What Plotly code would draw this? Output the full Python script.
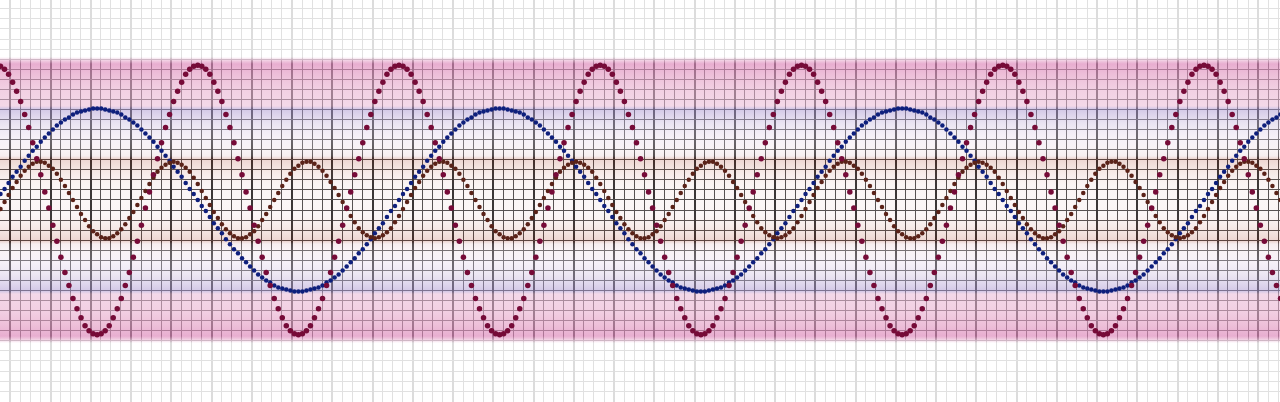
import plotly.graph_objects as go

# samples are evenly spaced along x (library builds them from x0/dx)
x_first = 0.0
x_step = 0.1

# large slow wave (dark blue dots)
blue_wave = [
    0.0, 0.6, 1.1, 1.7, 2.3, 2.8, 3.3, 3.9, 4.4, 4.9, 5.3, 5.8, 6.2, 6.6, 7.0, 7.4, 7.7, 8.0, 8.2, 8.5, 8.7, 8.8, 8.9, 9.0, 9.1,
    9.1, 9.1, 9.0, 8.9, 8.8, 8.7, 8.5, 8.2, 8.0, 7.7, 7.4, 7.0, 6.6, 6.2, 5.8, 5.3, 4.9, 4.4, 3.9, 3.3, 2.8, 2.3, 1.7, 1.1, 0.6,
    0.0, -0.6, -1.1, -1.7, -2.3, -2.8, -3.3, -3.9, -4.4, -4.9, -5.3, -5.8, -6.2, -6.6, -7.0, -7.4, -7.7, -8.0, -8.2, -8.5, -8.7, -8.8, -8.9, -9.0, -9.1,
    -9.1, -9.1, -9.0, -8.9, -8.8, -8.7, -8.5, -8.2, -8.0, -7.7, -7.4, -7.0, -6.6, -6.2, -5.8, -5.3, -4.9, -4.4, -3.9, -3.3, -2.8, -2.3, -1.7, -1.1, -0.6,
    0.0, 0.6, 1.1, 1.7, 2.3, 2.8, 3.3, 3.9, 4.4, 4.9, 5.3, 5.8, 6.2, 6.6, 7.0, 7.4, 7.7, 8.0, 8.2, 8.5, 8.7, 8.8, 8.9, 9.0, 9.1,
    9.1, 9.1, 9.0, 8.9, 8.8, 8.7, 8.5, 8.2, 8.0, 7.7, 7.4, 7.0, 6.6, 6.2, 5.8, 5.3, 4.9, 4.4, 3.9, 3.3, 2.8, 2.3, 1.7, 1.1, 0.6,
    0.0, -0.6, -1.1, -1.7, -2.3, -2.8, -3.3, -3.9, -4.4, -4.9, -5.3, -5.8, -6.2, -6.6, -7.0, -7.4, -7.7, -8.0, -8.2, -8.5, -8.7, -8.8, -8.9, -9.0, -9.1,
    -9.1, -9.1, -9.0, -8.9, -8.8, -8.7, -8.5, -8.2, -8.0, -7.7, -7.4, -7.0, -6.6, -6.2, -5.8, -5.3, -4.9, -4.4, -3.9, -3.3, -2.8, -2.3, -1.7, -1.1, -0.6,
    0.0, 0.6, 1.1, 1.7, 2.3, 2.8, 3.3, 3.9, 4.4, 4.9, 5.3, 5.8, 6.2, 6.6, 7.0, 7.4, 7.7, 8.0, 8.2, 8.5, 8.7, 8.8, 8.9, 9.0, 9.1,
    9.1, 9.1, 9.0, 8.9, 8.8, 8.7, 8.5, 8.2, 8.0, 7.7, 7.4, 7.0, 6.6, 6.2, 5.8, 5.3, 4.9, 4.4, 3.9, 3.3, 2.8, 2.3, 1.7, 1.1, 0.6,
    0.0, -0.6, -1.1, -1.7, -2.3, -2.8, -3.3, -3.9, -4.4, -4.9, -5.3, -5.8, -6.2, -6.6, -7.0, -7.4, -7.7, -8.0, -8.2, -8.5, -8.7, -8.8, -8.9, -9.0, -9.1,
    -9.1, -9.1, -9.0, -8.9, -8.8, -8.7, -8.5, -8.2, -8.0, -7.7, -7.4, -7.0, -6.6, -6.2, -5.8, -5.3, -4.9, -4.4, -3.9, -3.3, -2.8, -2.3, -1.7, -1.1, -0.6,
    0.0, 0.6, 1.1, 1.7, 2.3, 2.8, 3.3, 3.9, 4.4, 4.9, 5.3, 5.8, 6.2, 6.6, 7.0, 7.4, 7.7, 8.0, 8.2, 8.5,
]

# tall wave, twice as fast (maroon dots)
red_wave = [
    13.4, 13.3, 13.0, 12.5, 11.7, 10.8, 9.8, 8.5, 7.2, 5.7, 4.1, 2.5, 0.8, -0.8, -2.5, -4.1, -5.7, -7.2, -8.5, -9.8, -10.8, -11.7, -12.5, -13.0, -13.3,
    -13.4, -13.3, -13.0, -12.5, -11.7, -10.8, -9.8, -8.5, -7.2, -5.7, -4.1, -2.5, -0.8, 0.8, 2.5, 4.1, 5.7, 7.2, 8.5, 9.8, 10.8, 11.7, 12.5, 13.0, 13.3,
    13.4, 13.3, 13.0, 12.5, 11.7, 10.8, 9.8, 8.5, 7.2, 5.7, 4.1, 2.5, 0.8, -0.8, -2.5, -4.1, -5.7, -7.2, -8.5, -9.8, -10.8, -11.7, -12.5, -13.0, -13.3,
    -13.4, -13.3, -13.0, -12.5, -11.7, -10.8, -9.8, -8.5, -7.2, -5.7, -4.1, -2.5, -0.8, 0.8, 2.5, 4.1, 5.7, 7.2, 8.5, 9.8, 10.8, 11.7, 12.5, 13.0, 13.3,
    13.4, 13.3, 13.0, 12.5, 11.7, 10.8, 9.8, 8.5, 7.2, 5.7, 4.1, 2.5, 0.8, -0.8, -2.5, -4.1, -5.7, -7.2, -8.5, -9.8, -10.8, -11.7, -12.5, -13.0, -13.3,
    -13.4, -13.3, -13.0, -12.5, -11.7, -10.8, -9.8, -8.5, -7.2, -5.7, -4.1, -2.5, -0.8, 0.8, 2.5, 4.1, 5.7, 7.2, 8.5, 9.8, 10.8, 11.7, 12.5, 13.0, 13.3,
    13.4, 13.3, 13.0, 12.5, 11.7, 10.8, 9.8, 8.5, 7.2, 5.7, 4.1, 2.5, 0.8, -0.8, -2.5, -4.1, -5.7, -7.2, -8.5, -9.8, -10.8, -11.7, -12.5, -13.0, -13.3,
    -13.4, -13.3, -13.0, -12.5, -11.7, -10.8, -9.8, -8.5, -7.2, -5.7, -4.1, -2.5, -0.8, 0.8, 2.5, 4.1, 5.7, 7.2, 8.5, 9.8, 10.8, 11.7, 12.5, 13.0, 13.3,
    13.4, 13.3, 13.0, 12.5, 11.7, 10.8, 9.8, 8.5, 7.2, 5.7, 4.1, 2.5, 0.8, -0.8, -2.5, -4.1, -5.7, -7.2, -8.5, -9.8, -10.8, -11.7, -12.5, -13.0, -13.3,
    -13.4, -13.3, -13.0, -12.5, -11.7, -10.8, -9.8, -8.5, -7.2, -5.7, -4.1, -2.5, -0.8, 0.8, 2.5, 4.1, 5.7, 7.2, 8.5, 9.8, 10.8, 11.7, 12.5, 13.0, 13.3,
    13.4, 13.3, 13.0, 12.5, 11.7, 10.8, 9.8, 8.5, 7.2, 5.7, 4.1, 2.5, 0.8, -0.8, -2.5, -4.1, -5.7, -7.2, -8.5, -9.8, -10.8, -11.7, -12.5, -13.0, -13.3,
    -13.4, -13.3, -13.0, -12.5, -11.7, -10.8, -9.8, -8.5, -7.2, -5.7, -4.1, -2.5, -0.8, 0.8, 2.5, 4.1, 5.7, 7.2, 8.5, 9.8, 10.8, 11.7, 12.5, 13.0, 13.3,
    13.4, 13.3, 13.0, 12.5, 11.7, 10.8, 9.8, 8.5, 7.2, 5.7, 4.1, 2.5, 0.8, -0.8, -2.5, -4.1, -5.7, -7.2, -8.5, -9.8,
]

# small fast wave, three times as fast (brown dots)
brown_wave = [
    -1.6, -0.9, -0.2, 0.5, 1.2, 1.8, 2.4, 2.9, 3.3, 3.6, 3.8, 3.8, 3.7, 3.4, 3.1, 2.6, 2.0, 1.4, 0.7, 0.0, -0.7, -1.4, -2.0, -2.6, -3.1,
    -3.4, -3.7, -3.8, -3.8, -3.6, -3.3, -2.9, -2.4, -1.8, -1.2, -0.5, 0.2, 0.9, 1.6, 2.2, 2.8, 3.2, 3.5, 3.7, 3.8, 3.7, 3.5, 3.2, 2.8, 2.2,
    1.6, 0.9, 0.2, -0.5, -1.2, -1.8, -2.4, -2.9, -3.3, -3.6, -3.8, -3.8, -3.7, -3.4, -3.1, -2.6, -2.0, -1.4, -0.7, 0.0, 0.7, 1.4, 2.0, 2.6, 3.1,
    3.4, 3.7, 3.8, 3.8, 3.6, 3.3, 2.9, 2.4, 1.8, 1.2, 0.5, -0.2, -0.9, -1.6, -2.2, -2.8, -3.2, -3.5, -3.7, -3.8, -3.7, -3.5, -3.2, -2.8, -2.2,
    -1.6, -0.9, -0.2, 0.5, 1.2, 1.8, 2.4, 2.9, 3.3, 3.6, 3.8, 3.8, 3.7, 3.4, 3.1, 2.6, 2.0, 1.4, 0.7, 0.0, -0.7, -1.4, -2.0, -2.6, -3.1,
    -3.4, -3.7, -3.8, -3.8, -3.6, -3.3, -2.9, -2.4, -1.8, -1.2, -0.5, 0.2, 0.9, 1.6, 2.2, 2.8, 3.2, 3.5, 3.7, 3.8, 3.7, 3.5, 3.2, 2.8, 2.2,
    1.6, 0.9, 0.2, -0.5, -1.2, -1.8, -2.4, -2.9, -3.3, -3.6, -3.8, -3.8, -3.7, -3.4, -3.1, -2.6, -2.0, -1.4, -0.7, 0.0, 0.7, 1.4, 2.0, 2.6, 3.1,
    3.4, 3.7, 3.8, 3.8, 3.6, 3.3, 2.9, 2.4, 1.8, 1.2, 0.5, -0.2, -0.9, -1.6, -2.2, -2.8, -3.2, -3.5, -3.7, -3.8, -3.7, -3.5, -3.2, -2.8, -2.2,
    -1.6, -0.9, -0.2, 0.5, 1.2, 1.8, 2.4, 2.9, 3.3, 3.6, 3.8, 3.8, 3.7, 3.4, 3.1, 2.6, 2.0, 1.4, 0.7, 0.0, -0.7, -1.4, -2.0, -2.6, -3.1,
    -3.4, -3.7, -3.8, -3.8, -3.6, -3.3, -2.9, -2.4, -1.8, -1.2, -0.5, 0.2, 0.9, 1.6, 2.2, 2.8, 3.2, 3.5, 3.7, 3.8, 3.7, 3.5, 3.2, 2.8, 2.2,
    1.6, 0.9, 0.2, -0.5, -1.2, -1.8, -2.4, -2.9, -3.3, -3.6, -3.8, -3.8, -3.7, -3.4, -3.1, -2.6, -2.0, -1.4, -0.7, 0.0, 0.7, 1.4, 2.0, 2.6, 3.1,
    3.4, 3.7, 3.8, 3.8, 3.6, 3.3, 2.9, 2.4, 1.8, 1.2, 0.5, -0.2, -0.9, -1.6, -2.2, -2.8, -3.2, -3.5, -3.7, -3.8, -3.7, -3.5, -3.2, -2.8, -2.2,
    -1.6, -0.9, -0.2, 0.5, 1.2, 1.8, 2.4, 2.9, 3.3, 3.6, 3.8, 3.8, 3.7, 3.4, 3.1, 2.6, 2.0, 1.4, 0.7, 0.0,
]

X_RANGE = [0.087, 31.888]
Y_RANGE = [-20.08, 19.88]
PX_PER_Y = 10.06

# background wash, symmetric about the centre line
# (distance from centre in px, colour seen on white, opacity)
wash = [
    (0, (251, 246, 246), 0.16),
    (15, (250, 244, 244), 0.18),
    (25, (247, 236, 234), 0.22),
    (35, (241, 223, 219), 0.25),
    (41, (236, 212, 208), 0.27),
    (44, (246, 238, 240), 0.30),
    (50, (249, 243, 246), 0.34),
    (62, (246, 241, 248), 0.40),
    (75, (235, 229, 243), 0.47),
    (85, (221, 212, 236), 0.53),
    (91, (210, 199, 230), 0.57),
    (94, (243, 216, 232), 0.62),
    (110, (242, 208, 227), 0.65),
    (125, (237, 192, 217), 0.68),
    (136, (232, 174, 208), 0.70),
    (139, (240, 202, 224), 0.78),
    (143, (255, 255, 255), 0.85),
]


def rgba(seen, a):
    # colour that gives `seen` when laid over white at opacity a
    c = [max(0, min(255, round((v - (1 - a) * 255) / a))) for v in seen]
    return "rgba(%d,%d,%d,%.3f)" % (c[0], c[1], c[2], a)


y_lo, y_hi = Y_RANGE
stops = {}
for d, seen, a in wash:
    for y in (d / PX_PER_Y, -d / PX_PER_Y):
        if y_lo < y < y_hi:
            stops[y] = rgba(seen, a)
stops[y_lo] = rgba((255, 255, 255), 0.85)
stops[y_hi] = rgba((255, 255, 255), 0.85)
colorscale = [[(y - y_lo) / (y_hi - y_lo), stops[y]] for y in sorted(stops)]

fig = go.Figure()

fig.add_trace(go.Scatter(
    x=[X_RANGE[0], X_RANGE[1], X_RANGE[1], X_RANGE[0]],
    y=[y_lo, y_lo, y_hi, y_hi],
    fill="toself",
    mode="none",
    fillgradient=dict(type="vertical", colorscale=colorscale, start=y_lo, stop=y_hi),
    hoverinfo="skip",
))

fig.add_trace(go.Scatter(
    x0=x_first, dx=x_step, y=blue_wave,
    mode="markers",
    marker=dict(size=4.5, color="#0e1f7c"),
    name="blue",
))
fig.add_trace(go.Scatter(
    x0=x_first, dx=x_step, y=brown_wave,
    mode="markers",
    marker=dict(size=4.5, color="#5a2218"),
    name="brown",
))
fig.add_trace(go.Scatter(
    x0=x_first, dx=x_step, y=red_wave,
    mode="markers",
    marker=dict(size=5.5, color="#760b38"),
    name="red",
))

minor_grid = "rgb(58,58,58)"
major_grid = "rgb(25,25,25)"

fig.update_layout(
    width=1280,
    height=402,
    margin=dict(l=0, r=0, t=0, b=0),
    paper_bgcolor="white",
    plot_bgcolor="white",
    showlegend=False,
    xaxis=dict(
        range=X_RANGE,
        showticklabels=False,
        ticks="",
        zeroline=False,
        showline=False,
        showgrid=True,
        gridcolor=major_grid,
        gridwidth=1.6,
        tick0=0.343,
        dtick=1,
        minor=dict(tick0=0.343, dtick=0.25, showgrid=True, gridcolor=minor_grid, gridwidth=1),
    ),
    yaxis=dict(
        range=Y_RANGE,
        showticklabels=False,
        ticks="",
        zeroline=False,
        showline=False,
        showgrid=True,
        gridcolor=minor_grid,
        gridwidth=1,
        tick0=0,
        dtick=4,
        minor=dict(tick0=0, dtick=1, showgrid=True, gridcolor=minor_grid, gridwidth=1),
    ),
)

# drop the browser's default page margin so the chart sits flush in the window
fig.write_html(
    "out.html",
    config={"displayModeBar": False},
    post_script="document.body.style.margin='0';",
)
